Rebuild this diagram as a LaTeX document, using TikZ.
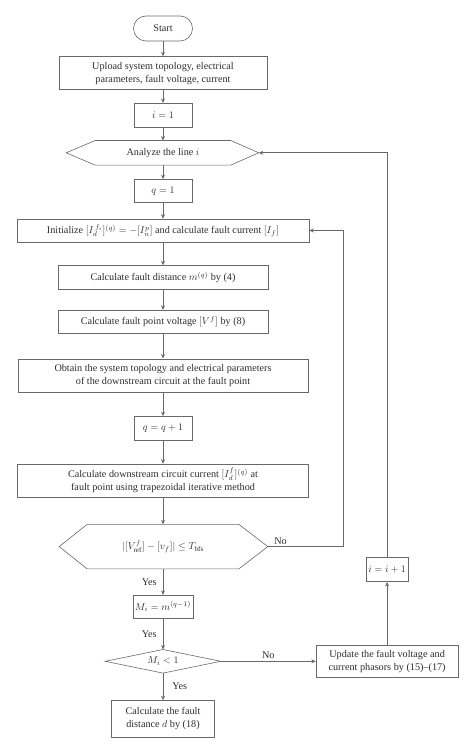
\documentclass[tikz,border=0pt]{standalone}
\usepackage{fontspec}
\setmainfont{Liberation Serif}
\usetikzlibrary{arrows.meta,positioning,calc}
\definecolor{linegray}{RGB}{105,105,105}
\definecolor{textgray}{RGB}{45,45,45}
\newcommand{\boxfont}{\fontsize{10.2}{13}\selectfont}
\tikzstyle{box} = [rectangle, draw=linegray, line width=0.6pt, align=center, inner sep=2pt, text=textgray, font=\boxfont]
\tikzstyle{arrow} = [draw=linegray, line width=0.6pt, ->, >={Stealth[length=4.5pt,width=4pt]}]
\tikzstyle{outline} = [draw=linegray, line width=0.6pt]
\tikzstyle{lbl} = [text=textgray, font=\boxfont, inner sep=2pt]

\begin{document}
\begin{tikzpicture}[x=1pt,y=1pt]
    \useasboundingbox (0,0) rectangle (474,-746);
    % create the nodes
    \node (start)[box, rounded corners=12.5pt, minimum width=59pt, minimum height=25pt] at (163,-28.5) {Start};
    \node (upload)[box, below=15pt of start, minimum width=208pt, minimum height=33pt]{Upload system topology, electrical\\parameters, fault voltage, current};
    \node (ione)[box, below=13pt of upload, minimum width=58pt, minimum height=24pt]{$i=1$};
    \node (line)[box, draw=none, below=13pt of ione, minimum width=135pt, minimum height=24pt]{Analyze the line $i$};
    \node (qone)[box, below=14pt of line, minimum width=58pt, minimum height=23pt]{$q=1$};
    \node (init)[box, below=16pt of qone, minimum width=292pt, minimum height=23pt]{Initialize $[I_{d}^{\,f_i}]^{(q)}=-[I_n^{p}]$ and calculate fault current $[I_f]$};
    \node (dist)[box, below=23pt of init, minimum width=210pt, minimum height=24pt]{Calculate fault distance $m^{(q)}$ by (4)};
    \node (volt)[box, below=20pt of dist, minimum width=210pt, minimum height=23pt]{Calculate fault point voltage $[V^f]$ by (8)};
    \node (topo)[box, below=25pt of volt, minimum width=290pt, minimum height=33pt]{Obtain the system topology and electrical parameters\\of the downstream circuit at the fault point};
    \node (qinc)[box, below=24pt of topo, minimum width=58pt, minimum height=24pt]{$q=q+1$};
    \node (down)[box, below=23pt of qinc, minimum width=291pt, minimum height=33pt]{Calculate downstream circuit current $[I_d^f]^{(q)}$ at\\fault point using trapezoidal iterative method};
    \node (conv)[box, draw=none, below=27pt of down, minimum width=151pt, minimum height=44pt]{$|[V^f_{\mathrm{ref}}]-[v_f]|\le T_{\mathrm{bfs}}$};
    \node (mi)[box, below=26pt of conv, minimum width=59pt, minimum height=23pt]{$M_i=m^{(q-1)}$};
    \node (check)[box, draw=none, below=31pt of mi, minimum width=115pt, minimum height=23pt]{$M_i<1$};
    \node (final)[box, below=27pt of check, minimum width=103pt, minimum height=37pt]{Calculate the fault\\distance $d$ by (18)};
    \node (upd)[box, right=95pt of check, minimum width=142pt, minimum height=32pt]{Update the fault voltage and\\current phasors by (15)--(17)};
    \node (iinc)[box, above=63pt of upd, minimum width=39pt, minimum height=24pt]{$i=i+1$};

    % outlines of the decision shapes
    \draw[outline] (line.north west) -- (line.north east) -- ($(line.east)+(28,0)$) coordinate (lineR)
        -- (line.south east) -- (line.south west) -- ($(line.west)+(-29,0)$) -- cycle;
    \draw[outline] (conv.north west) -- (conv.north east) -- ($(conv.east)+(29,0)$) coordinate (convR)
        -- (conv.south east) -- (conv.south west) -- ($(conv.west)+(-28,0)$) -- cycle;
    \draw[outline] (check.north) -- (check.east) -- (check.south) -- (check.west) -- cycle;

    % connect the nodes
    \draw[arrow] (start) -- (upload);
    \draw[arrow] (upload) -- (ione);
    \draw[arrow] (ione) -- (line);
    \draw[arrow] (line) -- (qone);
    \draw[arrow] (qone) -- (init);
    \draw[arrow] (init) -- (dist);
    \draw[arrow] (dist) -- (volt);
    \draw[arrow] (volt) -- (topo);
    \draw[arrow] (topo) -- (qinc);
    \draw[arrow] (qinc) -- (down);
    \draw[arrow] (down) -- (conv);
    \draw[arrow] (conv) -- node[lbl, left=4pt] {Yes} (mi);
    \draw[arrow] (mi) -- node[lbl, left=4pt] {Yes} (check);
    \draw[arrow] (check) -- node[lbl, right=7pt] {Yes} (final);
    \draw[arrow] (check) -- node[lbl, above] {No} (upd);
    \draw[arrow] (upd) -- (iinc);
    \draw[arrow] (iinc.north) |- (lineR);
    \draw[arrow] (convR) -- node[lbl, pos=0.17, above] {No} ++(75,0) |- (init.east);
\end{tikzpicture}
\end{document}
